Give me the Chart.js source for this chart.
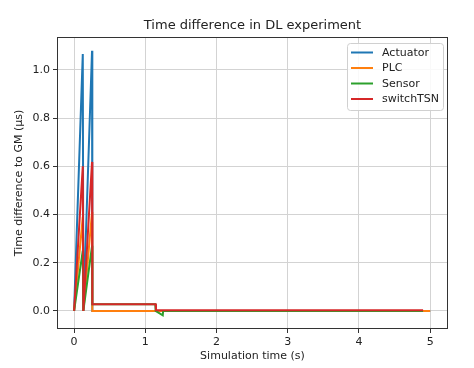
<!DOCTYPE html>
<html>
<head>
<meta charset="utf-8">
<script src="https://cdn.jsdelivr.net/npm/chart.js@4.4.1/dist/chart.umd.min.js"></script>
<style>
  html, body { margin: 0; padding: 0; background: #fff; }
  #wrap { width: 474px; height: 368px; }
</style>
</head>
<body>
<div id="wrap"><canvas id="diffChart" width="474" height="368"></canvas></div>
<script>
const seriesNames = ['Actuator', 'PLC', 'Sensor', 'switchTSN']
const seriesColors = ['#1f77b4', '#ff7f0e', '#2ca02c', '#d62728']

// simulation time (s) and time difference to GM (µs)
const actuatorTime = [0, 0.122, 0.13, 0.252, 0.256, 5.0]
const actuatorDiff = [0, 1.065, 0, 1.079, 0, 0]

const plcTime = [0, 0.122, 0.13, 0.252, 0.256, 5.0]
const plcDiff = [0, 0.39, 0, 0.41, 0, 0]

const sensorTime = [0, 0.122, 0.13, 0.252, 0.256, 1.14, 1.145, 1.245, 1.25, 4.9]
const sensorDiff = [0, 0.25, 0, 0.27, 0.028, 0.028, 0, -0.018, 0, 0]

const switchTime = [0, 0.122, 0.13, 0.252, 0.256, 1.145, 1.15, 4.9]
const switchDiff = [0, 0.60, 0, 0.618, 0.028, 0.028, 0.003, 0.003]

const xTicks = [0, 1, 2, 3, 4, 5]
const yTicks = [0.0, 0.2, 0.4, 0.6, 0.8, 1.0]

const times = [actuatorTime, plcTime, sensorTime, switchTime]
const diffs = [actuatorDiff, plcDiff, sensorDiff, switchDiff]

const datasets = seriesNames.map((name, i) => ({
  label: name,
  data: times[i].map((t, k) => ({ x: t, y: diffs[i][k] })),
  borderColor: seriesColors[i],
  backgroundColor: seriesColors[i],
  borderWidth: 2,
  pointRadius: 0,
  tension: 0,
  fill: false,
  order: seriesNames.length - i   // later series on top, like matplotlib
}))

const font = 'DejaVu Sans'

// title, frame and the legend box inside the plot
const extras = {
  id: 'extras',
  afterDraw(chart) {
    const { ctx, chartArea: a } = chart
    ctx.save()
    // frame
    ctx.strokeStyle = '#333'
    ctx.lineWidth = 1
    ctx.strokeRect(a.left + 0.5, a.top + 0.5, a.right - a.left - 1, a.bottom - a.top - 1)

    // title
    ctx.fillStyle = '#222'
    ctx.font = `13px "${font}"`
    ctx.textAlign = 'center'
    ctx.textBaseline = 'middle'
    ctx.fillText('Time difference in DL experiment', (a.left + a.right) / 2, 26)

    // legend
    const bx = a.right - 101, by = a.top + 6, bw = 96, bh = 67
    ctx.beginPath()
    ctx.roundRect(bx + 0.5, by + 0.5, bw, bh, 3)
    ctx.fillStyle = 'rgba(255,255,255,0.85)'
    ctx.fill()
    ctx.strokeStyle = '#d0d0d0'
    ctx.stroke()
    ctx.font = `11px "${font}"`
    ctx.textAlign = 'left'
    seriesNames.forEach((name, i) => {
      const y = by + 9.5 + i * 15.5
      ctx.strokeStyle = seriesColors[i]
      ctx.lineWidth = 2
      ctx.beginPath()
      ctx.moveTo(bx + 4, y)
      ctx.lineTo(bx + 26, y)
      ctx.stroke()
      ctx.fillStyle = '#222'
      ctx.fillText(name, bx + 35, y + 0.5)
    })
    ctx.restore()
  }
}

new Chart(document.getElementById('diffChart').getContext('2d'), {
  type: 'line',
  data: { datasets },
  options: {
    responsive: false,
    animation: false,
    layout: { padding: { top: 37, right: 26, left: 0, bottom: 0 } },
    plugins: {
      legend: { display: false },
      tooltip: { enabled: false }
    },
    scales: {
      x: {
        type: 'linear',
        min: -0.24,
        max: 5.25,
        afterFit: s => { s.height = 39 },
        afterBuildTicks: s => { s.ticks = xTicks.map(v => ({ value: v })) },
        grid: { color: '#d3d3d3', lineWidth: 1, tickColor: '#333', tickLength: 4 },
        border: { display: false },
        ticks: { color: '#222', font: { family: font, size: 11 }, padding: 3, maxRotation: 0, callback: v => String(v) },
        title: { display: true, text: 'Simulation time (s)', color: '#222', font: { family: font, size: 11 }, padding: { top: 0, bottom: 5 } }
      },
      y: {
        type: 'linear',
        min: -0.075,
        max: 1.136,
        afterFit: s => { s.width = 57 },
        afterBuildTicks: s => { s.ticks = yTicks.map(v => ({ value: v })) },
        grid: { color: '#d3d3d3', lineWidth: 1, tickColor: '#333', tickLength: 4 },
        border: { display: false },
        ticks: { color: '#222', font: { family: font, size: 11 }, padding: 3, callback: v => v.toFixed(1) },
        title: { display: true, text: 'Time difference to GM (μs)', color: '#222', font: { family: font, size: 11 }, padding: { top: 13, bottom: 0 } }
      }
    }
  },
  plugins: [extras]
})
</script>
</body>
</html>
